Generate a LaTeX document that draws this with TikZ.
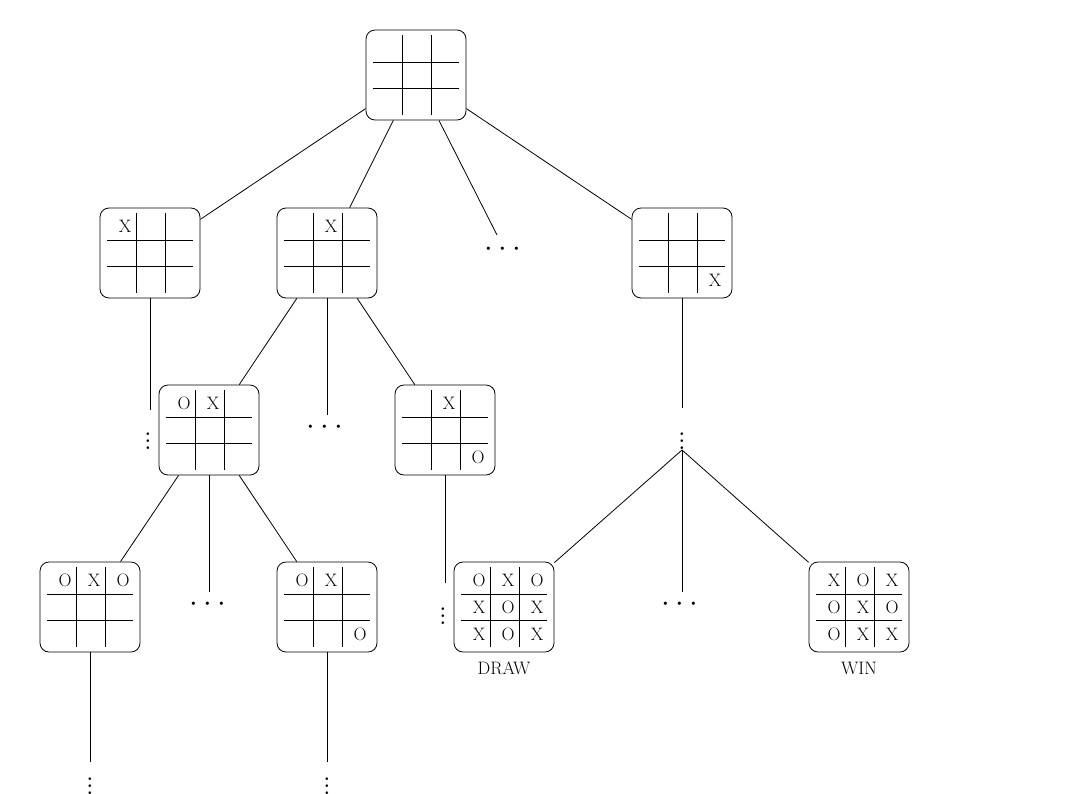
\documentclass[tikz,border=0pt]{standalone}
\begin{document}
\begin{tikzpicture}[x=1pt,y=-1pt,line width=0.8pt,
  every node/.style={font=\fontsize{18}{20}\selectfont},
  boardbox/.style={draw,rounded corners=9pt,minimum width=100pt,minimum height=90pt,inner sep=0pt},
  dotsnode/.style={inner sep=1pt,scale=1.8},
  edge/.style={line width=0.8pt}]
\useasboundingbox (0,0) rectangle (1068,793);
\newcommand\brd[4]{%
  \node[boardbox] (#1) at (#2,#3) {};
  \begin{scope}[shift={(#2,#3)}]
    \draw (-14,-40) -- (-14,40) (15,-40) -- (15,40) (-43,-13) -- (43,-13) (-43,13) -- (43,13);
    \foreach \cx/\cy/\t in {#4} {\node[inner sep=0pt] at (\cx*29+4,\cy*27) {\t};}
  \end{scope}}
\brd{r}{416}{75}{}
\brd{a}{150}{253}{-1/-1/X}
\brd{b}{327}{253}{0/-1/X}
\node[dotsnode] (bd) at (503,250) {$\cdots$};
\brd{c}{682}{253}{1/1/X}
\brd{ba}{209}{430}{-1/-1/O,0/-1/X}
\node[dotsnode] (bbd) at (325,428) {$\cdots$};
\brd{bc}{445}{430}{0/-1/X,1/1/O}
\node[dotsnode] (av) at (148,436) {$\vdots$};
\node[dotsnode] (cv) at (682,436) {$\vdots$};
\brd{baa}{90}{607}{-1/-1/O,0/-1/X,1/-1/O}
\node[dotsnode] (bad) at (208,605) {$\cdots$};
\brd{bac}{327}{607}{-1/-1/O,0/-1/X,1/1/O}
\brd{draw}{504}{607}{-1/-1/O,0/-1/X,1/-1/O,-1/0/X,0/0/O,1/0/X,-1/1/X,0/1/O,1/1/X}
\node[dotsnode] (bcv) at (443,611) {$\vdots$};
\node[dotsnode] (cd) at (680,605) {$\cdots$};
\brd{win}{859}{607}{-1/-1/X,0/-1/O,1/-1/X,-1/0/O,0/0/X,1/0/O,-1/1/O,0/1/X,1/1/X}
\node at (504,668) {DRAW};
\node at (859,668) {WIN};
\node[dotsnode] (baav) at (90,781) {$\vdots$};
\node[dotsnode] (bacv) at (327,781) {$\vdots$};
\coordinate (bdt) at (497,235);
\coordinate (bbdt) at (327,415);
\coordinate (badt) at (209,592);
\coordinate (cdt) at (682,592);
\coordinate (avt) at (150,410);
\coordinate (cvt) at (682,408);
\coordinate (cvb) at (682,450);
\coordinate (bcvt) at (445,583);
\coordinate (baavt) at (90,762);
\coordinate (bacvt) at (327,762);
\draw[edge] (r) -- (a);
\draw[edge] (r) -- (b);
\draw[edge] (r) -- (bdt);
\draw[edge] (r) -- (c);
\draw[edge] (a) -- (avt);
\draw[edge] (b) -- (ba);
\draw[edge] (b.south) -- (bbdt);
\draw[edge] (b) -- (bc);
\draw[edge] (c.south) -- (cvt);
\draw[edge] (ba) -- (baa);
\draw[edge] (ba.south) -- (badt);
\draw[edge] (ba) -- (bac);
\draw[edge] (bc.south) -- (bcvt);
\draw[edge] (cvb) -- (draw);
\draw[edge] (cvb) -- (cdt);
\draw[edge] (cvb) -- (win);
\draw[edge] (baa.south) -- (baavt);
\draw[edge] (bac.south) -- (bacvt);
\end{tikzpicture}
\end{document}
